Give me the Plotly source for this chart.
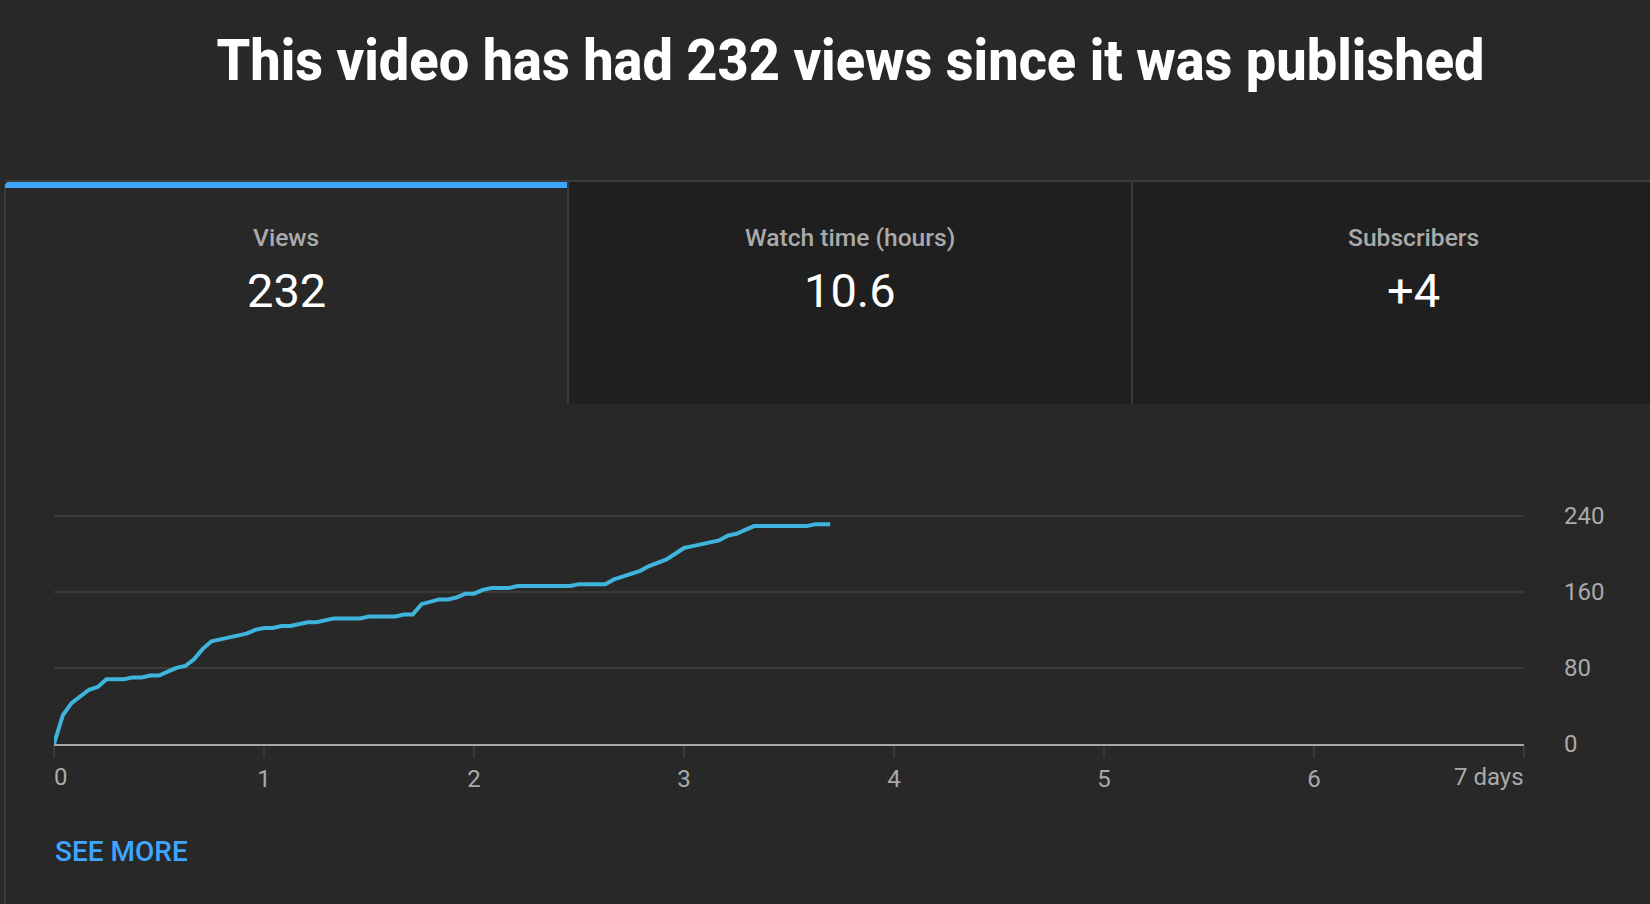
import plotly.graph_objects as go

W, H = 1650, 904

hours = list(range(88)) + [88.7]
views = [0, 30, 43, 50, 57, 60, 68, 68, 68, 70, 70, 72, 72, 76, 80, 82, 89, 100, 108, 110,
         112, 114, 116, 120, 122, 122, 124, 124, 126, 128, 128, 130, 132, 132, 132, 132, 134, 134, 134, 134,
         136, 136, 147, 150, 152, 152, 154, 158, 158, 162, 164, 164, 164, 166, 166, 166, 166, 166, 166, 166,
         168, 168, 168, 168, 173, 176, 179, 182, 187, 191, 194, 200, 206, 208, 210, 212, 214, 219, 221, 225,
         229, 229, 229, 229, 229, 229, 229, 231, 231]

x_ticks = [0, 24, 48, 72, 96, 120, 144, 168]
x_tick_labels = ["", "1", "2", "3", "4", "5", "6", ""]
y_ticks = [0, 80, 160, 240]
y_tick_labels = ["0", "80", "160", "240"]

title = "This video has had 232 views since it was published"
tab_labels = ["Views", "Watch time (hours)", "Subscribers"]
tab_values = ["232", "10.6", "+4"]
tab_centers = [286, 850, 1413]

BG, DARK, BORDER = "#282828", "#1f1f1f", "#3a3a3a"
BLUE, LINE, MUTED = "#3ea6ff", "#3fb5dd", "#aaaaaa"
FONT = "Roboto"


def px(x):
    return x / W


def py(y):
    return 1 - y / H


def rect(x0, y0, x1, y1, fill, line=None, lw=0):
    return dict(type="rect", xref="paper", yref="paper", x0=px(x0), x1=px(x1), y0=py(y1), y1=py(y0),
                fillcolor=fill, line=dict(color=line or fill, width=lw), layer="below")


def seg(x0, y0, x1, y1, color=BORDER, lw=2):
    return dict(type="line", xref="paper", yref="paper", x0=px(x0), x1=px(x1), y0=py(y0), y1=py(y1),
                line=dict(color=color, width=lw), layer="below")


def txt(s, x, y, size, color, anchor="center", weight=400):
    return dict(text=s, xref="paper", yref="paper", x=px(x), y=py(y), xanchor=anchor, yanchor="middle",
                showarrow=False, font=dict(family=FONT, size=size, color=color, weight=weight))


def path_blue():
    pts = f"M {px(5)} {py(188)} L {px(5)} {py(186)} Q {px(5)} {py(182)} {px(9)} {py(182)} L {px(567)} {py(182)} L {px(567)} {py(188)} Z"
    return dict(type="path", xref="paper", yref="paper", path=pts, fillcolor=BLUE, line=dict(width=0), layer="below")


shapes = [
    rect(568, 181, 1132, 404, DARK),
    rect(1132, 181, 1650, 404, DARK),
    seg(5, 181, 1650, 181),
    seg(568, 181, 568, 404),
    seg(1132, 181, 1132, 404),
    seg(5, 184, 5, 904),
    path_blue(),
]

annotations = [txt(title, 850, 60, 58, "#ffffff", weight=800)]
for label, value, cx in zip(tab_labels, tab_values, tab_centers):
    annotations.append(txt(label, cx, 237, 24.6, MUTED, weight=500))
    annotations.append(txt(value, cx, 290, 47, "#ffffff"))
annotations.append(txt("0", 52, 777, 24, MUTED, anchor="left"))
annotations.append(txt("7 days", 1526, 777, 24, MUTED, anchor="right"))
annotations.append(txt("SEE MORE", 53, 851, 28, BLUE, anchor="left", weight=500))

fig = go.Figure(go.Scatter(x=hours, y=views, mode="lines", line=dict(color=LINE, width=4), hoverinfo="skip"))

fig.update_layout(
    width=W, height=H, margin=dict(l=0, r=0, t=0, b=0), autosize=False, showlegend=False,
    paper_bgcolor=BG, plot_bgcolor="rgba(0,0,0,0)", font=dict(family=FONT, color=MUTED),
    shapes=shapes, annotations=annotations,
    xaxis=dict(domain=[px(54), px(1524)], range=[0, 168], tickmode="array", tickvals=x_ticks, ticktext=x_tick_labels,
               automargin=False, showgrid=False, zeroline=False, showline=True, linecolor="#a6a6a6", linewidth=2,
               ticks="outside", ticklen=12, tickwidth=2, tickcolor=BORDER,
               tickfont=dict(family=FONT, size=24, color=MUTED), fixedrange=True),
    yaxis=dict(domain=[py(744), py(505)], range=[0, 251.2], side="right", tickmode="array", tickvals=y_ticks,
               ticktext=y_tick_labels, automargin=False, showgrid=True, gridcolor=BORDER, gridwidth=2, zeroline=False,
               showline=False, ticks="", ticklabelstandoff=39, tickfont=dict(family=FONT, size=24, color=MUTED),
               fixedrange=True),
)

post = """
document.body.style.margin='0';
document.body.style.background='#282828';
document.documentElement.style.overflow='hidden';
var t = document.querySelector('.annotation[data-index="0"] text');
if (t) { t.setAttribute('textLength', '1268'); t.setAttribute('lengthAdjust', 'spacingAndGlyphs'); }
"""
fig.write_html("out.html", config=dict(displayModeBar=False), post_script=post)
